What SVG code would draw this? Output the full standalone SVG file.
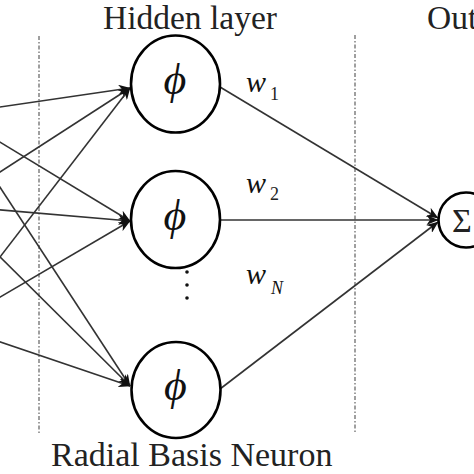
<svg xmlns="http://www.w3.org/2000/svg" width="474" height="474" viewBox="0 0 474 474">
<style>
.lbl{font-family:"Liberation Serif","Times New Roman",serif;fill:#222}
.node{fill:#fff;stroke:#000;stroke-width:2.6}
.edge{stroke:#333;stroke-width:1.6;fill:none;marker-end:url(#ah)}
.sep{stroke:#888;stroke-width:1.6;stroke-dasharray:4 2 1.5 2;fill:none}
.sym{font-family:"Liberation Serif","Times New Roman",serif;font-style:italic;fill:#111}
</style>
<defs>
<marker id="ah" viewBox="0 0 12 10" refX="11.5" refY="5" markerWidth="12" markerHeight="10" markerUnits="userSpaceOnUse" orient="auto">
<path d="M0,0 L12,5 L0,10 L3.5,5 Z" fill="#111"/>
</marker>
</defs>
<rect width="474" height="474" fill="#fff"/>
<g id="separators">
<line class="sep" x1="39" y1="36" x2="39" y2="434"/>
<line class="sep" x1="355" y1="35" x2="355" y2="432"/>
</g>
<g id="connectors">
<line class="edge" x1="-10" y1="108.5" x2="130" y2="88"/>
<line class="edge" x1="-10" y1="178.5" x2="130" y2="88"/>
<line class="edge" x1="-10" y1="270" x2="130" y2="88"/>
<line class="edge" x1="-10" y1="136" x2="130" y2="221"/>
<line class="edge" x1="-10" y1="209" x2="130" y2="221"/>
<line class="edge" x1="-10" y1="303" x2="130" y2="221"/>
<line class="edge" x1="-10" y1="172" x2="130" y2="386"/>
<line class="edge" x1="-10" y1="247" x2="130" y2="386"/>
<line class="edge" x1="-10" y1="338.5" x2="130" y2="386"/>
<line class="edge" x1="220" y1="87" x2="438" y2="218"/>
<line class="edge" x1="221" y1="220" x2="438" y2="220"/>
<line class="edge" x1="220" y1="389" x2="438" y2="222"/>
</g>
<g id="hidden1">
<ellipse class="node" cx="175.5" cy="84" rx="44.5" ry="48.5"/>
<text class="sym" x="175" y="94" font-size="44" text-anchor="middle">ϕ</text>
</g>
<g id="hidden2">
<ellipse class="node" cx="175.5" cy="219.5" rx="44.5" ry="48.5"/>
<text class="sym" x="175" y="229.5" font-size="44" text-anchor="middle">ϕ</text>
</g>
<g id="hidden3">
<ellipse class="node" cx="176" cy="390" rx="44.5" ry="48"/>
<text class="sym" x="175.5" y="400" font-size="44" text-anchor="middle">ϕ</text>
</g>
<g id="ellipsis" fill="#111">
<circle cx="187" cy="272" r="1.8"/>
<circle cx="187" cy="285" r="1.8"/>
<circle cx="187" cy="298" r="1.8"/>
</g>
<g id="output">
<circle class="node" cx="466" cy="220" r="27.5"/>
<text class="lbl" x="452" y="232" font-size="34">Σ</text>
</g>
<g id="weights">
<text class="sym" x="246" y="92" font-size="30">w</text>
<text class="lbl" x="270" y="100" font-size="18">1</text>
<text class="sym" x="246" y="193" font-size="30">w</text>
<text class="lbl" x="270" y="200" font-size="18">2</text>
<text class="sym" x="246" y="284" font-size="30">w</text>
<text class="sym" x="271" y="294" font-size="18">N</text>
</g>
<g id="titles">
<text class="lbl" x="103" y="29" font-size="33.5">Hidden layer</text>
<text class="lbl" x="427" y="29" font-size="33.5">Out</text>
<text class="lbl" x="51" y="466" font-size="34">Radial Basis Neuron</text>
</g>
</svg>
